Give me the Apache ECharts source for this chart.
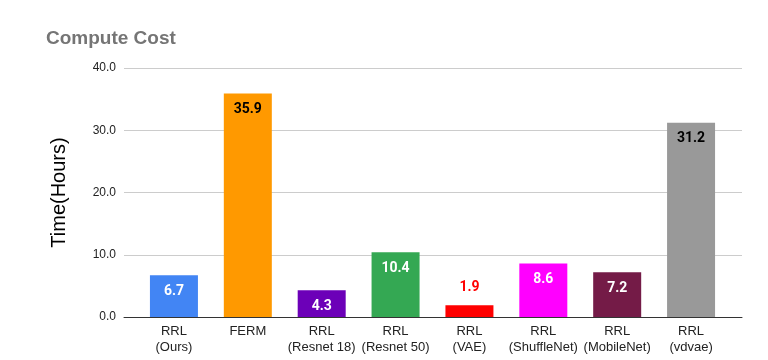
<!DOCTYPE html>
<html><head><meta charset="utf-8">
<script src="https://cdn.jsdelivr.net/npm/echarts@6/dist/echarts.min.js"></script>
<style>html,body{margin:0;padding:0;background:#fff}#c{width:768px;height:360px}</style>
</head><body><div id="c"></div>
<script>
const categories = ['RRL\n(Ours)', 'FERM', 'RRL\n(Resnet 18)', 'RRL\n(Resnet 50)', 'RRL\n(VAE)', 'RRL\n(ShuffleNet)', 'RRL\n(MobileNet)', 'RRL\n(vdvae)'];
const values = [6.7, 35.9, 4.3, 10.4, 1.9, 8.6, 7.2, 31.2];
const barColors = ['#4285F4', '#FF9900', '#6C00B8', '#34A853', '#FF0000', '#FF00FF', '#741B47', '#999999'];
const labelColors = ['#ffffff', '#000000', '#ffffff', '#ffffff', '#FF0000', '#ffffff', '#ffffff', '#000000'];
const yTicks = [0, 10, 20, 30, 40];

const chart = echarts.init(document.getElementById('c'));
const font = 'Roboto, Arial, sans-serif';
const arial = 'Arial, "Liberation Sans", sans-serif';
chart.setOption({
  animation: false,
  title: { text: 'Compute Cost', left: 41, top: 24, textStyle: { fontFamily: arial, fontSize: 19, fontWeight: 'bold', color: '#757575' } },
  grid: [
    { left: 124, right: 26, top: 68, bottom: 43 },
    { left: 137, right: 40, top: 68, bottom: 43 }
  ],
  xAxis: [
    { gridIndex: 0, type: 'value', min: 0, max: 1, show: true, axisLine: { show: true, onZero: false, lineStyle: { color: '#333', width: 1 } }, axisTick: { show: false }, axisLabel: { show: false }, splitLine: { show: false } },
    { gridIndex: 1, type: 'category', data: categories, axisLine: { show: false }, axisTick: { show: false },
      axisLabel: { interval: 0, color: '#222', fontFamily: arial, fontSize: 13, lineHeight: 16, margin: 6 } }
  ],
  yAxis: [
    { gridIndex: 0, type: 'value', min: yTicks[0], max: yTicks[yTicks.length - 1], interval: 10,
      name: 'Time(Hours)', nameLocation: 'middle', nameGap: 55, nameTextStyle: { fontFamily: arial, fontSize: 20, color: '#000' },
      axisLine: { show: false }, axisTick: { show: false },
      axisLabel: { color: '#222', fontFamily: arial, fontSize: 12, margin: 8, formatter: v => v.toFixed(1) },
      splitLine: { lineStyle: { color: '#cccccc', width: 1 } } },
    { gridIndex: 1, type: 'value', min: yTicks[0], max: yTicks[yTicks.length - 1], interval: 10, show: false }
  ],
  series: [{
    type: 'bar', xAxisIndex: 1, yAxisIndex: 1, barWidth: 48,
    data: values.map((v, i) => ({
      value: v,
      itemStyle: { color: barColors[i] },
      label: { color: labelColors[i], position: i === 4 ? 'top' : 'insideTop', distance: i === 4 ? 11 : 9 }
    })),
    label: { show: true, fontFamily: font, fontSize: 14, fontWeight: 'bold', formatter: p => p.value.toFixed(1) }
  }]
});
</script></body></html>
